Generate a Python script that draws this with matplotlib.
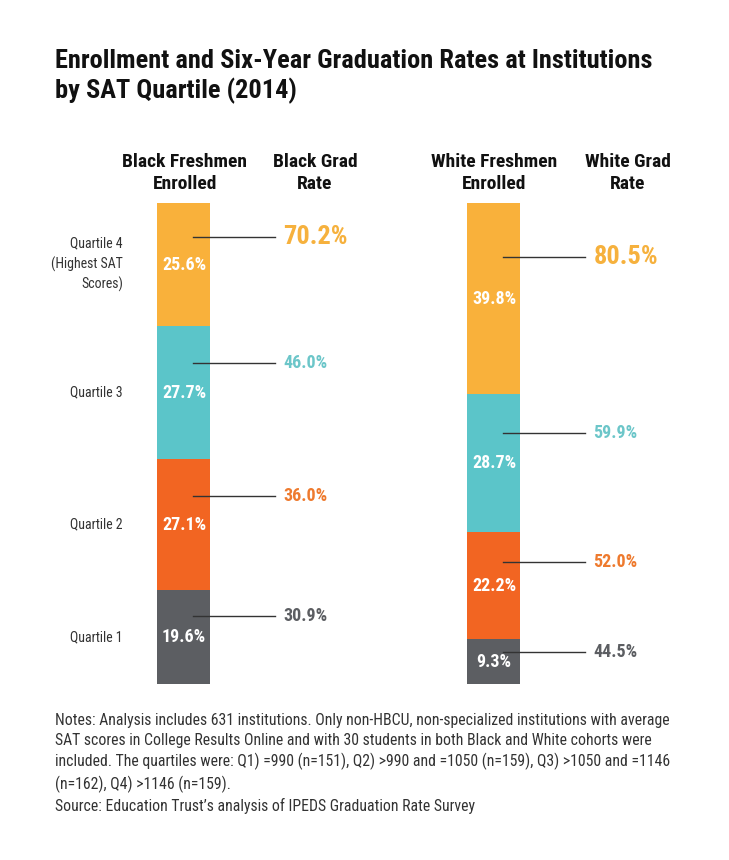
import numpy as np
import matplotlib
matplotlib.use("Agg")
import matplotlib.pyplot as plt

plt.rcParams['font.family'] = ['Roboto Condensed', 'DejaVu Sans']

# data, bottom to top (Quartile 1 .. Quartile 4)
quartiles = ["Quartile 1", "Quartile 2", "Quartile 3", "Quartile 4\n(Highest SAT\nScores)"]
black_enrolled = [19.6, 27.1, 27.7, 25.6]
black_grad = [30.9, 36.0, 46.0, 70.2]
white_enrolled = [9.3, 22.2, 28.7, 39.8]
white_grad = [44.5, 52.0, 59.9, 80.5]

seg_colors = ["#5c5e62", "#f26522", "#5bc5c9", "#f9b13b"]
grad_colors = ["#5c5e62", "#ee7a2e", "#6cc6c9", "#f6b13d"]
line_color = "#333333"

W, H = 729, 860
fig = plt.figure(figsize=(W / 100, H / 100), dpi=100)
fig.patch.set_facecolor("white")

# axes spans full width (pixel x), bar area vertically
bar_top, bar_bot = 203, 684
ax = fig.add_axes([0, (H - bar_bot) / H, 1, (bar_bot - bar_top) / H])
ax.set_xlim(0, W)
ax.set_ylim(0, 100)
ax.axis("off")


def draw_column(xc, enrolled, grad):
    bw = 53
    bottoms = np.concatenate([[0], np.cumsum(enrolled)[:-1]])
    ax.bar([xc] * len(enrolled), enrolled, bottom=bottoms, width=bw,
           color=seg_colors, edgecolor="none")
    for i, (b, v, g) in enumerate(zip(bottoms, enrolled, grad)):
        ax.text(xc, b + v / 2, f"{v:.1f}%", ha="center", va="center",
                color="white", fontsize=13, fontweight="bold")
        ly = b + v - 0.28 * v
        x0 = xc + bw / 2 - 17
        ax.plot([x0, x0 + 82], [ly, ly], color=line_color, lw=1)
        fs = 19 if i == len(enrolled) - 1 else 13
        ax.text(x0 + 90, ly, f"{g:.1f}%", ha="left", va="center",
                color=grad_colors[i], fontsize=fs, fontweight="bold")
    return bottoms


b_bottoms = draw_column(184, black_enrolled, black_grad)
draw_column(494, white_enrolled, white_grad)

for b, v, q in zip(b_bottoms, black_enrolled, quartiles):
    ax.text(123, b + v / 2, q, ha="right", va="center", color="#333333",
            fontsize=10, linespacing=1.45)

# title
fig.text(55 / W, 1 - 49 / H,
         "Enrollment and Six-Year Graduation Rates at Institutions\nby SAT Quartile (2014)",
         ha="left", va="top", fontsize=19, fontweight="bold", color="#111111",
         linespacing=1.25)

# column headers
headers = [(185, "Black Freshmen\nEnrolled"), (315, "Black Grad\nRate"),
           (494, "White Freshmen\nEnrolled"), (628, "White Grad\nRate")]
for x, t in headers:
    fig.text(x / W, 1 - 173 / H, t, ha="center", va="center", fontsize=14,
             fontweight="bold", color="#111111", linespacing=1.3)

notes = ("Notes: Analysis includes 631 institutions. Only non-HBCU, non-specialized institutions with average\n"
         "SAT scores in College Results Online and with 30 students in both Black and White cohorts were\n"
         "included. The quartiles were: Q1) =990 (n=151), Q2) >990 and =1050 (n=159), Q3) >1050 and =1146\n"
         "(n=162), Q4) >1146 (n=159).\n"
         "Source: Education Trust\u2019s analysis of IPEDS Graduation Rate Survey")
fig.text(55 / W, 1 - 713 / H, notes, ha="left", va="top", fontsize=11.3,
         color="#333333", linespacing=1.4)

fig.savefig("out.png", dpi=100)
